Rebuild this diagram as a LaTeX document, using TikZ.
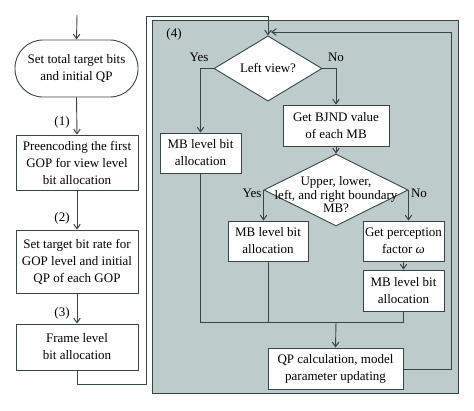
\documentclass[tikz,border=0pt]{standalone}
\usepackage{fontspec}
\setmainfont{Liberation Serif}
\usetikzlibrary{shapes.geometric,arrows.meta}
\definecolor{panelfill}{HTML}{BDCBCB}
\definecolor{linec}{HTML}{3A4444}
\tikzset{
  x=1pt,y=-1pt,
  every node/.style={font=\fontsize{13}{17}\selectfont,text=black},
  box/.style={draw=linec,fill=white,line width=0.9pt,align=center,inner sep=1pt},
  term/.style={box,rounded corners=28pt},
  dia/.style={draw=linec,fill=white,line width=0.9pt,diamond,inner sep=0pt},
  conn/.style={draw=linec,line width=0.9pt},
  arr/.style={conn,-{Straight Barb[length=4.5pt,width=6.5pt,line width=1pt]}},
  lab/.style={inner sep=1pt}
}
\begin{document}
\begin{tikzpicture}
\useasboundingbox (0,0) rectangle (474,410);
% panel
\draw[fill=panelfill,draw=linec,line width=1pt] (152,20) rectangle (458,393);

% left column
\coordinate (start) at (77,15);
\node[term,minimum width=123pt,minimum height=57pt] (term) at (76.5,68.5) {Set total target bits\\and initial QP};
\node[box,minimum width=122pt,minimum height=55pt] (b1) at (77,162.5) {Preencoding the first\\GOP for view level\\bit allocation};
\node[box,minimum width=122pt,minimum height=63pt] (b2) at (77,261.5) {Set target bit rate for\\GOP level and initial\\QP of each GOP};
\node[box,minimum width=122pt,minimum height=46pt] (b3) at (77,347) {Frame level\\bit allocation};
\node[lab] (l1) at (62,122) {(1)};
\node[lab] (l2) at (62,218) {(2)};
\node[lab] (l3) at (62,313) {(3)};

\draw[arr] (start) -- (term.north);
\draw[arr] (term.south) -- (b1.north);
\draw[arr] (b1.south) -- (b2.north);
\draw[arr] (b2.south) -- (b3.north);

% panel content
\node[lab] (l4) at (174,34) {(4)};
\node[dia,minimum width=108pt,minimum height=53pt] (d1) at (268,68.5) {Left view?};
\node[lab] (yes1) at (199,57) {Yes};
\node[lab] (no1) at (336,57) {No};
\node[box,minimum width=81pt,minimum height=40pt] (mbL) at (200.5,153) {MB level bit\\allocation};
\node[box,minimum width=106pt,minimum height=41pt] (bjnd) at (336,125.5) {Get BJND value\\of each MB};
\node[dia,minimum width=144pt,minimum height=72pt] (d2) at (336,190) {};
\node[align=center,font=\fontsize{13}{13.5}\selectfont,inner sep=0pt] (d2t) at (336,195) {Upper, lower,\\left, and right boundary\\MB?};
\node[lab] (yes2) at (252,193) {Yes};
\node[lab] (no2) at (419,193) {No};
\node[box,minimum width=80pt,minimum height=40pt] (mbM) at (268,241) {MB level bit\\allocation};
\node[box,minimum width=81pt,minimum height=40pt] (perc) at (403.5,241) {Get perception\\factor {\itshape ω}};
\node[box,minimum width=81pt,minimum height=41pt] (mbR) at (403.5,290.5) {MB level bit\\allocation};
\node[box,minimum width=135pt,minimum height=41pt] (qp) at (335.5,368.5) {QP calculation, model\\parameter updating};

\coordinate (loopA) at (77,384);
\coordinate (loopB) at (146,384);
\coordinate (loopC) at (146,16);
\coordinate (loopD) at (268,16);
\coordinate (merge) at (336,322);
\coordinate (fbA) at (451,369);
\coordinate (fbB) at (451,32);
\coordinate (fbEnd) at (271,32);

\draw[arr] (b3.south) -- (loopA) -- (loopB) -- (loopC) -- (loopD) -- (d1.north);
\draw[arr] (d1.west) -- (d1.west -| mbL.north) -- (mbL.north);
\draw[arr] (d1.east) -- (d1.east -| bjnd.north) -- (bjnd.north);
\draw[arr] (bjnd.south) -- (d2.north);
\draw[arr] (d2.west) -- (d2.west |- mbM.north);
\draw[arr] (d2.east) -- (d2.east |- perc.north);
\draw[arr] (perc.south) -- (mbR.north);
\draw[conn] (mbL.south) -- (mbL.south |- merge) -- (mbR.south |- merge) -- (mbR.south);
\draw[conn] (mbM.south) -- (mbM.south |- merge);
\draw[arr] (merge) -- (qp.north);
\draw[arr] (qp.east |- fbA) -- (fbA) -- (fbB) -- (fbEnd);
\end{tikzpicture}
\end{document}
